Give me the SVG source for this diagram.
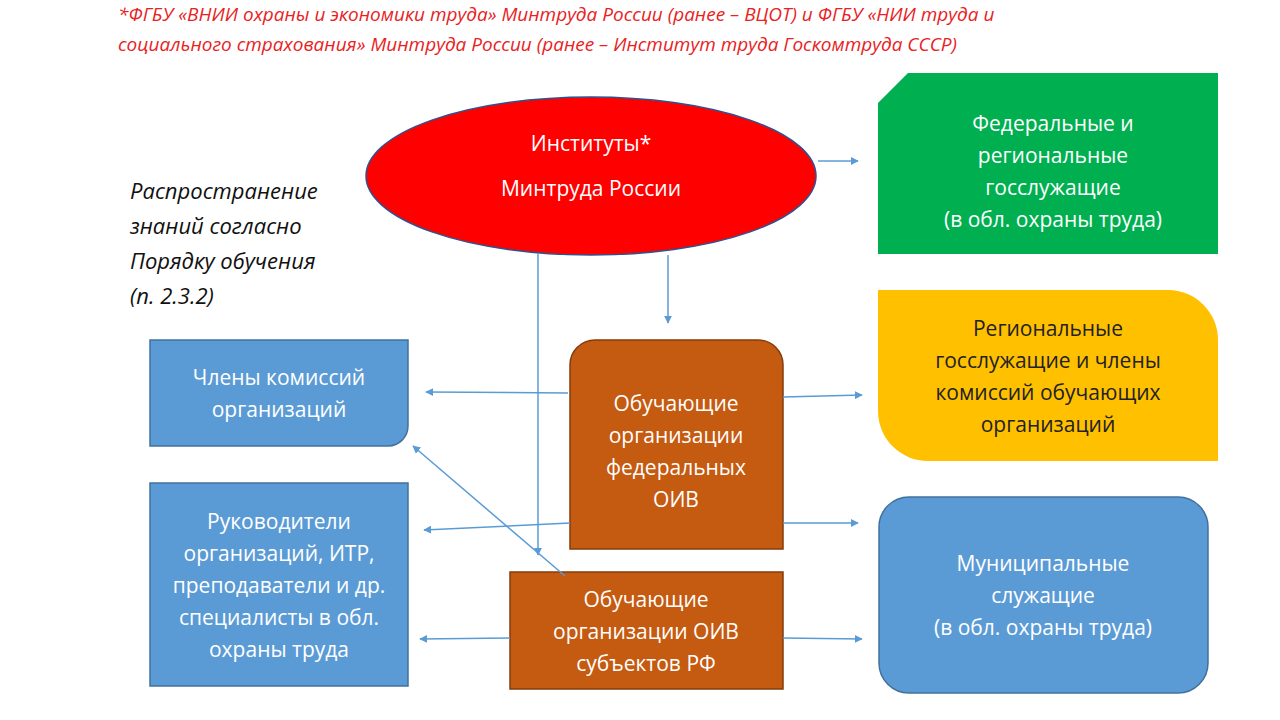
<svg xmlns="http://www.w3.org/2000/svg" width="1280" height="720" viewBox="0 0 1280 720">
<defs>
<marker id="ah" viewBox="0 0 10 10" refX="9" refY="5" markerWidth="8" markerHeight="8" markerUnits="userSpaceOnUse" orient="auto"><path d="M0,0L10,5L0,10z" fill="#5b9bd5"/></marker>
<style>
text{font-family:"Open Sans","Liberation Sans",sans-serif}
.w{fill:#fff;font-size:21px;text-anchor:middle}
.d{fill:#222;font-size:21px;text-anchor:middle}
.c{stroke:#5b9bd5;stroke-width:1.5;fill:none;marker-end:url(#ah)}
.blue{fill:#5b9bd5;stroke:#41719c;stroke-width:1.5}
.brown{fill:#c55a11;stroke:#843c0c;stroke-width:1.5}
</style>
</defs>
<rect width="1280" height="720" fill="#fff"/>
<g id="note" fill="#e8231f" font-style="italic" font-size="19">
<text x="118" y="21">*ФГБУ «ВНИИ охраны и экономики труда» Минтруда России (ранее – ВЦОТ) и ФГБУ «НИИ труда и</text>
<text x="118" y="51">социального страхования» Минтруда России (ранее – Институт труда Госкомтруда СССР)</text>
</g>
<g id="side" fill="#111" font-style="italic" font-size="22">
<text x="130" y="199">Распространение</text><text x="130" y="234">знаний согласно</text><text x="130" y="269">Порядку обучения</text><text x="130" y="304">(п. 2.3.2)</text>
</g>
<g id="inst"><ellipse cx="591" cy="176" rx="225" ry="79" fill="#ff0000" stroke="#2f528f" stroke-width="1.5"/>
<text class="w" x="591" y="151" font-size="30">Институты*</text><text class="w" x="591" y="196" font-size="30">Минтруда России</text></g>
<g id="fed"><path d="M908,73H1218V254H878V103z" fill="#00b050"/>
<text class="w" x="1053" y="131">Федеральные и</text><text class="w" x="1053" y="163">региональные</text><text class="w" x="1053" y="195">госслужащие</text><text class="w" x="1053" y="227">(в обл. охраны труда)</text></g>
<g id="reg"><path d="M878,290H1168A50,50 0 0 1 1218,340V461H928A50,50 0 0 1 878,411z" fill="#ffc000"/>
<text class="d" x="1048" y="336">Региональные</text><text class="d" x="1048" y="368">госслужащие и члены</text><text class="d" x="1048" y="400">комиссий обучающих</text><text class="d" x="1048" y="432">организаций</text></g>
<g id="mun"><rect class="blue" x="879" y="497" width="329" height="196" rx="30"/>
<text class="w" x="1043" y="571">Муниципальные</text><text class="w" x="1043" y="603">служащие</text><text class="w" x="1043" y="635">(в обл. охраны труда)</text></g>
<g id="chl"><path class="blue" d="M150,340H408V426A20,20 0 0 1 388,446H150z"/>
<text class="w" x="279" y="385">Члены комиссий</text><text class="w" x="279" y="417">организаций</text></g>
<g id="ruk"><rect class="blue" x="150" y="483" width="258" height="203"/>
<text class="w" x="279" y="529">Руководители</text><text class="w" x="279" y="561">организаций, ИТР,</text><text class="w" x="279" y="593">преподаватели и др.</text><text class="w" x="279" y="625">специалисты в обл.</text><text class="w" x="279" y="657">охраны труда</text></g>
<g id="fedoiv"><path class="brown" d="M595,340H758A25,25 0 0 1 783,365V549H570V365A25,25 0 0 1 595,340z"/>
<text class="w" x="676" y="411">Обучающие</text><text class="w" x="676" y="443">организации</text><text class="w" x="676" y="475">федеральных</text><text class="w" x="676" y="507">ОИВ</text></g>
<g id="suboiv"><rect class="brown" x="510" y="572" width="273" height="117"/>
<text class="w" x="646" y="607">Обучающие</text><text class="w" x="646" y="639">организации ОИВ</text><text class="w" x="646" y="671">субъектов РФ</text></g>
<g id="connectors">
<line class="c" x1="818" y1="161" x2="858" y2="161"/>
<line class="c" x1="668" y1="255" x2="668" y2="323"/>
<line class="c" x1="538" y1="253" x2="538" y2="555"/>
<line class="c" x1="568" y1="393" x2="426" y2="392"/>
<line class="c" x1="783" y1="397" x2="862" y2="395"/>
<line class="c" x1="570" y1="523" x2="424" y2="530"/>
<line class="c" x1="783" y1="523" x2="858" y2="523"/>
<line class="c" x1="510" y1="638" x2="420" y2="639"/>
<line class="c" x1="783" y1="638" x2="862" y2="639"/>
<line class="c" x1="565" y1="576" x2="413" y2="446"/>
</g>
</svg>
